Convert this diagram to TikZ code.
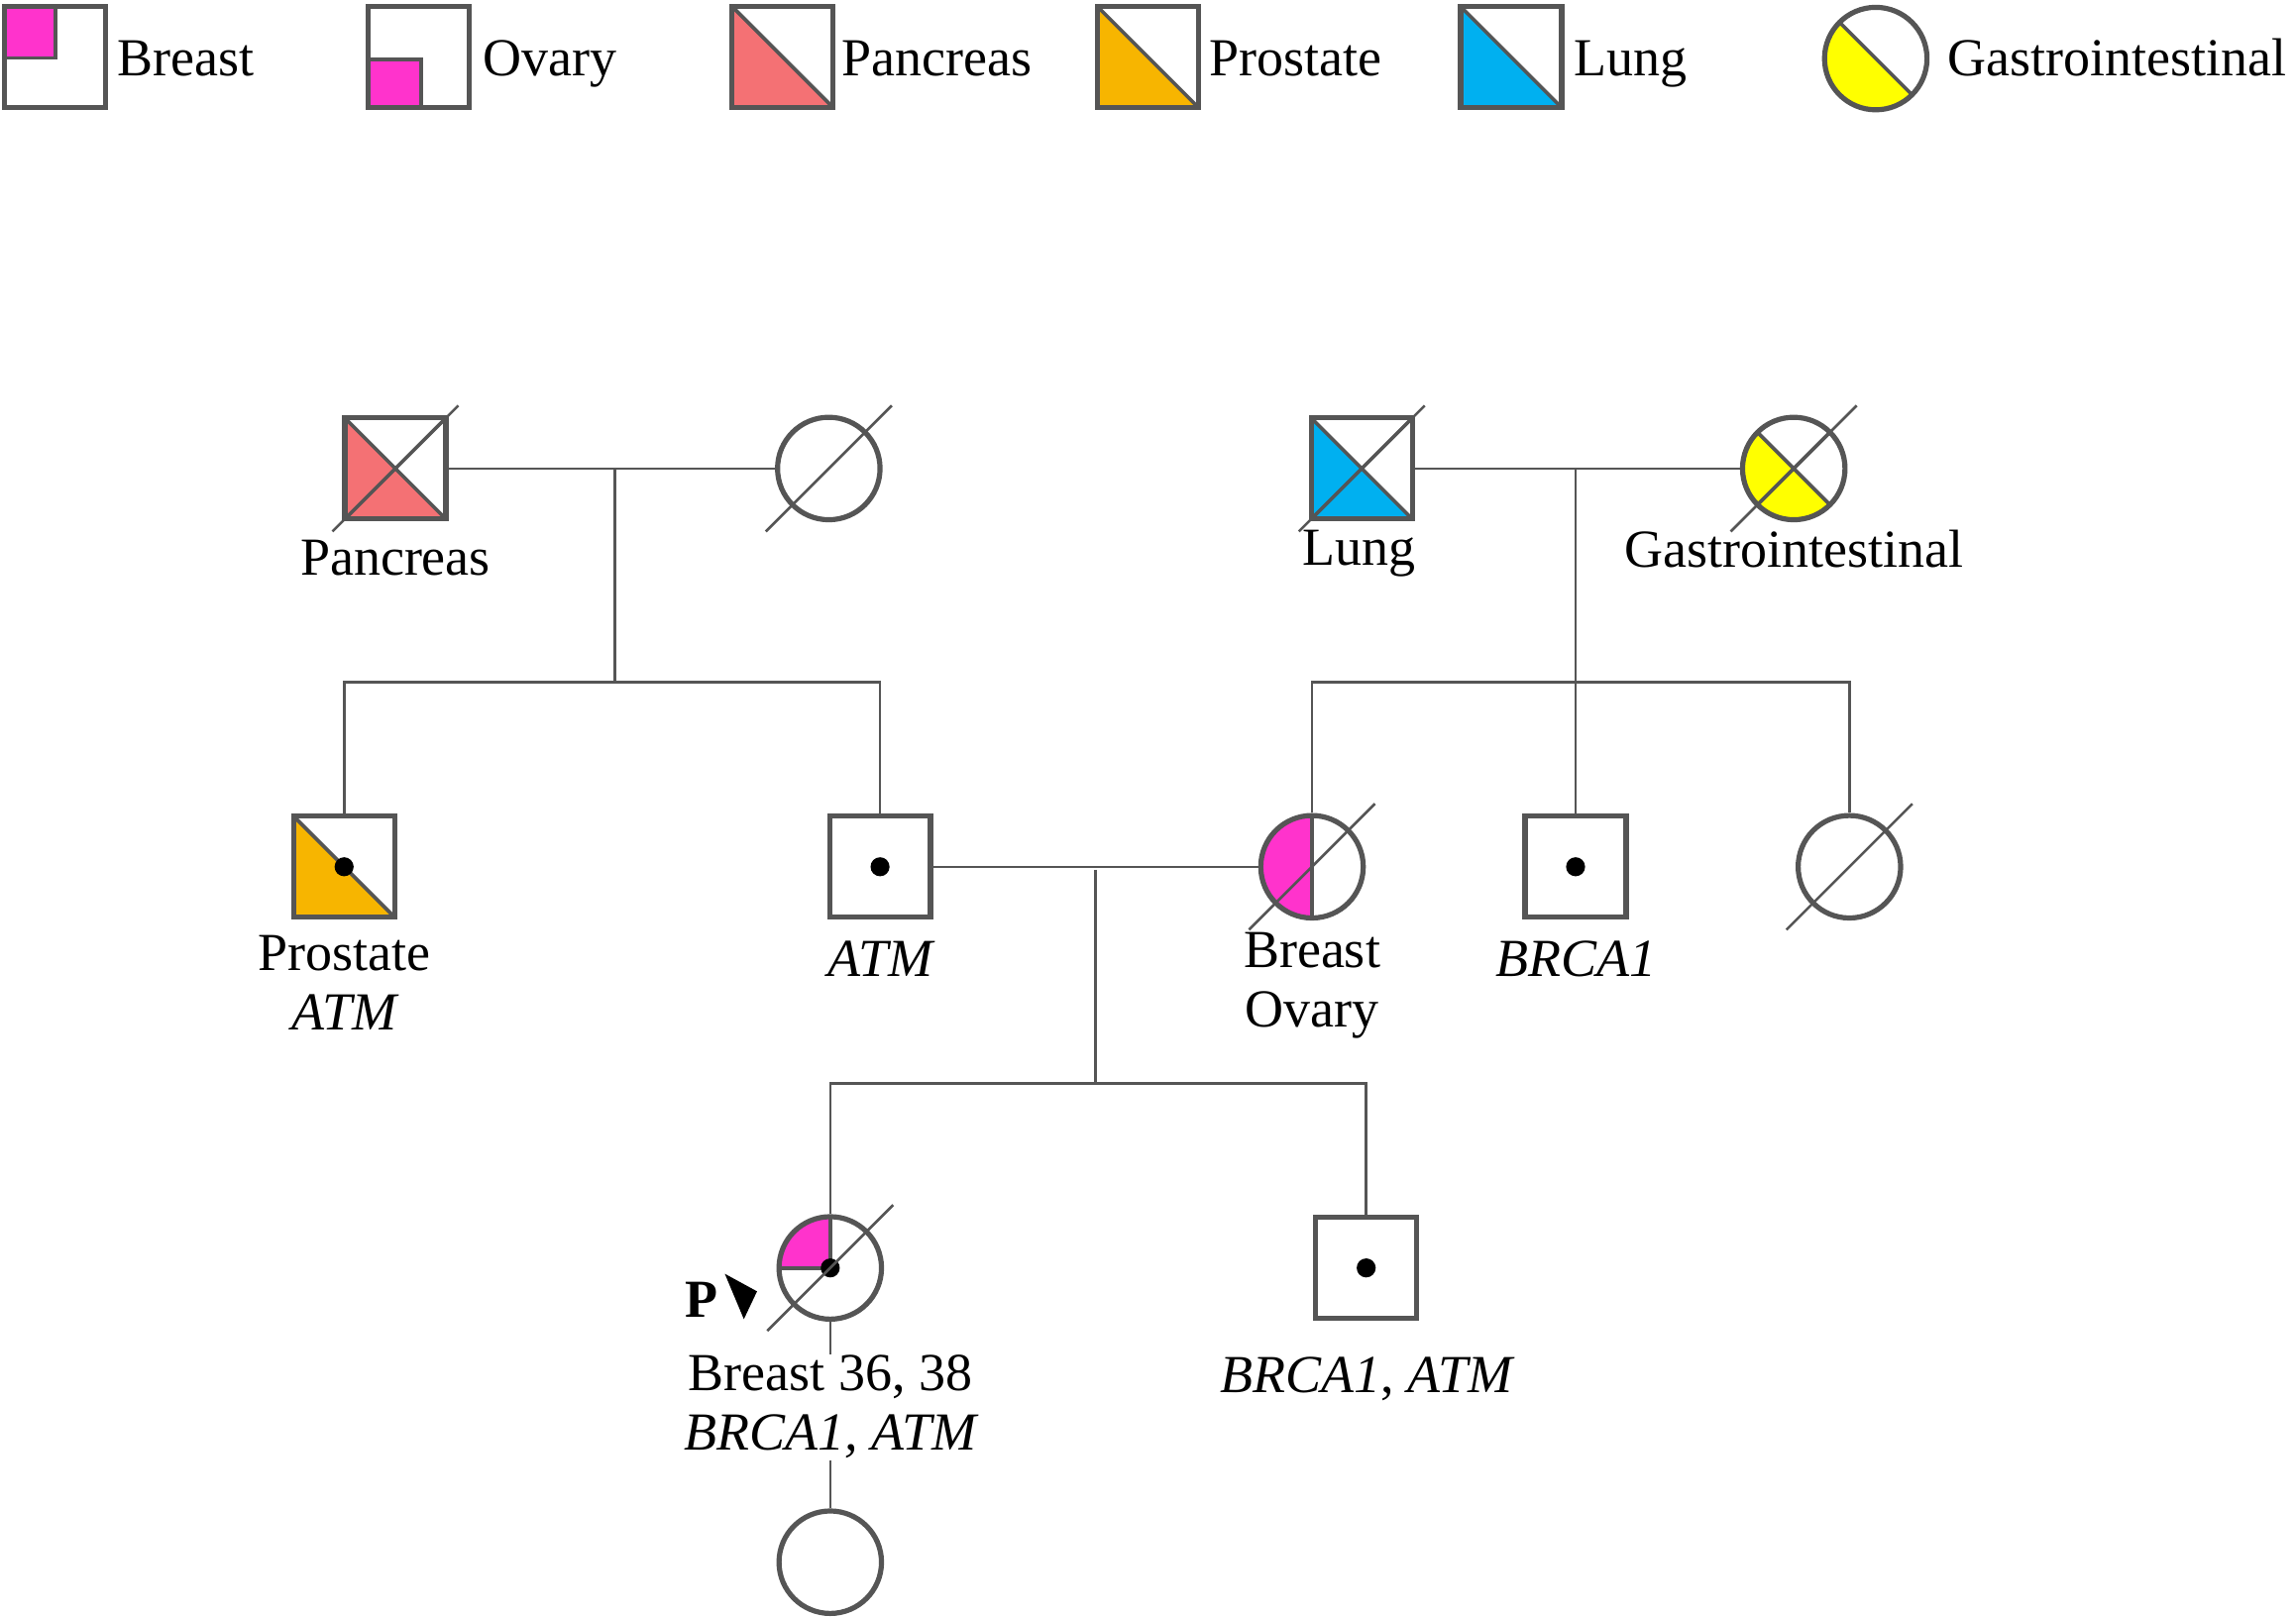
\documentclass[tikz,border=0pt]{standalone}
\usepackage{fontspec}
\setmainfont{Liberation Serif}
\definecolor{lineg}{HTML}{555555}
\definecolor{pinkc}{HTML}{FF33CC}
\definecolor{pancc}{HTML}{F47174}
\definecolor{prosc}{HTML}{F7B500}
\definecolor{lungc}{HTML}{00B0F0}
\definecolor{gic}{HTML}{FFFF00}
\begin{document}
\begin{tikzpicture}[x=0.05cm, y=-0.05cm,
    every node/.style={font=\fontsize{52}{58}\selectfont},
    male/.style={rectangle, draw=lineg, line width=5pt, minimum size=3.45cm, inner sep=0pt, fill=white},
    female/.style={circle, draw=lineg, line width=5pt, minimum size=3.5cm, inner sep=0pt, fill=white},
    tri/.style={path picture={\fill[#1] (path picture bounding box.north west) -- (path picture bounding box.south west) -- (path picture bounding box.south east) -- cycle;
        \draw[lineg, line width=3.5pt] (path picture bounding box.north west) -- (path picture bounding box.south east);}},
    trix/.style={path picture={\fill[#1] (path picture bounding box.north west) -- (path picture bounding box.south west) -- (path picture bounding box.south east) -- cycle;
        \draw[lineg, line width=3.5pt] (path picture bounding box.north west) -- (path picture bounding box.south east)
            (path picture bounding box.north east) -- (path picture bounding box.south west);}},
    lbl/.style={align=center, inner sep=1pt},
    key/.style={anchor=base west, inner sep=0pt},
    link/.style={lineg, line width=2.5pt},
    dead/.style={lineg, line width=2.5pt}]

    \useasboundingbox (0,0) rectangle (1568,1104);

    % Leyenda
    \node[male, path picture={\fill[pinkc] (path picture bounding box.north west) rectangle ++(1.75cm,-1.75cm); \draw[lineg, line width=3.5pt] (path picture bounding box.north west) ++(0,-1.75cm) -| ++(1.75cm,1.75cm);}] (LB) at (37.5,39) {};
    \node[key] at (80,52) {Breast};
    \node[male, path picture={\fill[pinkc] (path picture bounding box.south west) rectangle ++(1.8cm,1.65cm); \draw[lineg, line width=3.5pt] (path picture bounding box.south west) ++(0,1.65cm) -| ++(1.8cm,-1.65cm);}] (LO) at (286,39) {};
    \node[key] at (330,52) {Ovary};
    \node[male, tri=pancc] (LP) at (534.5,39) {};
    \node[key] at (575,52) {Pancreas};
    \node[male, tri=prosc] (LPr) at (784,39) {};
    \node[key] at (826,52) {Prostate};
    \node[male, tri=lungc] (LL) at (1032,39) {};
    \node[key] at (1075,52) {Lung};
    \node[female, tri=gic] (LG) at (1281,40) {};
    \node[key] at (1330,52) {Gastrointestinal};

    % Generacion I
    \node[male, trix=pancc] (PA) at (270,320) {};
    \node[female] (PB) at (566,320) {};
    \node[male, trix=lungc] (LU) at (930,320) {};
    \node[female, trix=gic] (GI) at (1225,320) {};
    \node[lbl] at (270,381) {Pancreas};
    \node[lbl] at (928,378) {Lung};
    \node[lbl] at (1225,375) {Gastrointestinal};

    % Generacion II
    \node[male, tri=prosc] (PR) at (235,592) {};
    \node[male] (AT) at (601,592) {};
    \node[female, path picture={\fill[pinkc] (path picture bounding box.north west) rectangle (path picture bounding box.south); \draw[lineg, line width=3.5pt] (path picture bounding box.north) -- (path picture bounding box.south);}] (BO) at (896,592) {};
    \node[male] (BR) at (1076,592) {};
    \node[female] (SI) at (1263,592) {};
    \node[lbl] at (235,671) {Prostate\\\itshape ATM};
    \node[lbl] at (601,655) {\itshape ATM};
    \node[lbl] at (896,673) {Breast\\Ovary};
    \node[lbl] at (1076,655) {\itshape BRCA1};

    % Generacion III
    \node[female, path picture={\fill[pinkc] (path picture bounding box.center) -- (path picture bounding box.west) |- (path picture bounding box.north) -- cycle; \draw[lineg, line width=3.5pt] (path picture bounding box.west) -- (path picture bounding box.center) -- (path picture bounding box.north);}] (PRB) at (567,866) {};
    \node[male] (BRO) at (933,866) {};
    \node[female] (CH) at (567,1067) {};
    \node[lbl] (PRBL) at (567,961) {Breast 36, 38\\\itshape BRCA1, ATM};
    \node[lbl] at (933,942) {\itshape BRCA1\upshape, \itshape ATM};
    \node[font=\fontsize{52}{58}\selectfont\bfseries] at (479,888) {P};
    \fill[black] (495,870) -- (517,882) -- (508,901) -- cycle;

    % Portadores
    \foreach \n in {PR, AT, BR, BRO, PRB}
        \fill (\n.center) circle (6.5);

    % Fallecidos
    \foreach \n in {PA, PB, LU, GI, BO, SI, PRB}
        \draw[dead] (\n.center) ++(-43,43) -- ++(86,-86);

    % Parejas y descendencia
    \draw[link] (PA) -- (PB);
    \draw[link] (420,320) -- (420,466);
    \draw[link] (PR) |- (AT.north |- 0,466) -- (AT);
    \draw[link] (LU) -- (GI);
    \draw[link] (BR) -- (BR |- 0,320);
    \draw[link] (BO) |- (SI.north |- 0,466) -- (SI);
    \draw[link] (AT) -- (BO);
    \draw[link] (748,594) -- (748,740);
    \draw[link] (PRB) |- (BRO.north |- 0,740) -- (BRO);
    \draw[link] (PRB.south) -- (PRB.south |- PRBL.north);
    \draw[link] (PRBL.south -| CH.north) -- (CH);
\end{tikzpicture}
\end{document}
